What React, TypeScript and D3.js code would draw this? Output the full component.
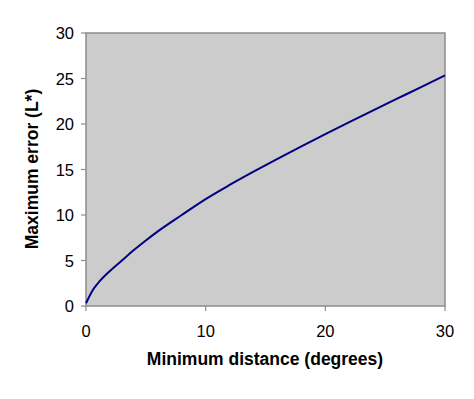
import React from "react";
import * as d3 from "d3";

// minimum distance (degrees) vs maximum error (L*)
const distance = [0, 0.5, 1, 2, 3, 4, 5, 6, 8, 10, 12, 14, 16, 18, 20, 22, 24, 26, 28, 30];
const maxError = [0.3, 1.6, 2.5, 3.85, 5.0, 6.15, 7.2, 8.2, 10.0, 11.75, 13.3, 14.76, 16.17, 17.54, 18.88, 20.2, 21.5, 22.78, 24.06, 25.35];
const xTicks = [0, 10, 20, 30];
const yTicks = [0, 5, 10, 15, 20, 25, 30];

const width = 474;
const height = 399;
const margin = { top: 33, right: 29, bottom: 93, left: 86 };

const App = () => {
  const x = d3
    .scaleLinear()
    .domain([0, 30])
    .range([margin.left, width - margin.right]);
  const y = d3
    .scaleLinear()
    .domain([0, 30])
    .range([height - margin.bottom, margin.top]);

  const points: [number, number][] = distance.map((d, i) => [d, maxError[i]]);
  const line = d3
    .line<[number, number]>()
    .x((d) => x(d[0]))
    .y((d) => y(d[1]))
    .curve(d3.curveMonotoneX);

  const font = "'Liberation Sans', Arial, sans-serif";

  return (
    <svg
      width={width}
      height={height}
      style={{ position: "absolute", left: 0, top: 0, background: "#fff" }}
    >
      <rect
        x={x(0)}
        y={y(30)}
        width={x(30) - x(0)}
        height={y(0) - y(30)}
        fill="#cccccc"
        stroke="#8c8c8c"
        strokeWidth={1.5}
      />
      {yTicks.map((t) => (
        <g key={"y" + t}>
          <line x1={x(0) - 5} x2={x(0)} y1={y(t)} y2={y(t)} stroke="#8c8c8c" strokeWidth={1.2} />
          <text
            x={x(0) - 12}
            y={y(t)}
            textAnchor="end"
            dominantBaseline="central"
            fontFamily={font}
            fontSize={16.5}
            fill="#000"
          >
            {t}
          </text>
        </g>
      ))}
      {xTicks.map((t) => (
        <g key={"x" + t}>
          <line x1={x(t)} x2={x(t)} y1={y(0)} y2={y(0) + 5} stroke="#8c8c8c" strokeWidth={1.2} />
          <text
            x={x(t)}
            y={337}
            textAnchor="middle"
            fontFamily={font}
            fontSize={16.5}
            fill="#000"
          >
            {t}
          </text>
        </g>
      ))}
      <path d={line(points) ?? ""} fill="none" stroke="#000080" strokeWidth={2} />
      <text
        x={265}
        y={365}
        textAnchor="middle"
        fontFamily={font}
        fontSize={17.5}
        fontWeight="bold"
        fill="#000"
      >
        Minimum distance (degrees)
      </text>
      <text
        transform={`translate(38, 169) rotate(-90)`}
        textAnchor="middle"
        fontFamily={font}
        fontSize={17.5}
        fontWeight="bold"
        fill="#000"
      >
        Maximum error (L*)
      </text>
    </svg>
  );
};

export default App;
